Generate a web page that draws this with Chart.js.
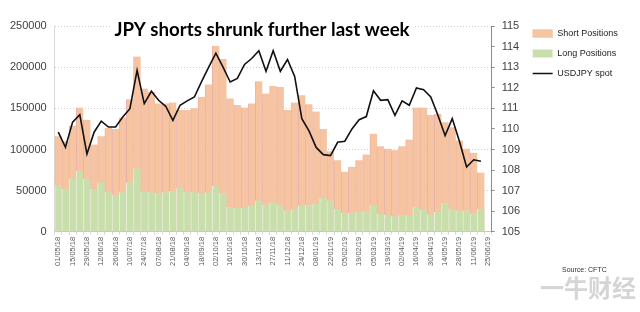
<!DOCTYPE html>
<html>
<head>
<meta charset="utf-8">
<script src="https://cdn.jsdelivr.net/npm/chart.js@4.4.1/dist/chart.umd.min.js"></script>
<style>
  html, body { margin: 0; padding: 0; background: #fff; }
  #wrap { position: relative; width: 640px; height: 312px; }
</style>
</head>
<body>
<div id="wrap"><canvas id="cotChart"></canvas></div>
<script>
// weekly CFTC report dates (only every other one is labelled on the axis)
const weeks = [
    '01/05/18', '08/05/18', '15/05/18', '22/05/18', '29/05/18', '05/06/18', '12/06/18', '19/06/18',
    '26/06/18', '03/07/18', '10/07/18', '17/07/18', '24/07/18', '31/07/18', '07/08/18', '14/08/18',
    '21/08/18', '28/08/18', '04/09/18', '11/09/18', '18/09/18', '25/09/18', '02/10/18', '09/10/18',
    '16/10/18', '23/10/18', '30/10/18', '06/11/18', '13/11/18', '20/11/18', '27/11/18', '04/12/18',
    '11/12/18', '18/12/18', '24/12/18', '31/12/18', '08/01/19', '15/01/19', '22/01/19', '29/01/19',
    '05/02/19', '12/02/19', '19/02/19', '26/02/19', '05/03/19', '12/03/19', '19/03/19', '26/03/19',
    '02/04/19', '09/04/19', '16/04/19', '23/04/19', '30/04/19', '07/05/19', '14/05/19', '21/05/19',
    '28/05/19', '04/06/19', '11/06/19', '18/06/19', '25/06/19'
];

const shortPositions = [
    116000, 110000, 129000, 151000, 136000, 106000, 116000, 126000, 125000, 139000,
    161000, 213000, 174000, 170000, 156000, 156000, 157000, 148000, 148000, 150000,
    164000, 179000, 226000, 210000, 162000, 154000, 151000, 156000, 183000, 168000,
    177000, 176000, 148000, 157000, 166000, 155000, 146000, 125000, 98000, 87000,
    73000, 79000, 87000, 94000, 119000, 104000, 101000, 99000, 104000, 112000,
    151000, 151000, 142000, 143000, 133000, 127000, 111000, 101000, 96000, 72000
];

const longPositions = [
    57000, 52000, 65000, 74000, 64000, 52000, 60000, 48000, 45000, 49000,
    60000, 77000, 49000, 48000, 47000, 48000, 50000, 53000, 48000, 48000,
    47000, 48000, 56000, 47000, 30000, 29000, 29000, 32000, 38000, 33000,
    36000, 33000, 26000, 28000, 32000, 33000, 34000, 41000, 38000, 28000,
    23000, 23000, 24000, 25000, 33000, 22000, 21000, 19000, 20000, 20000,
    30000, 27000, 21000, 24000, 35000, 28000, 26000, 26000, 22000, 28000
];

const usdjpySpot = [
    109.84, 109.11, 110.33, 110.69, 108.78, 109.84, 110.38, 110.09, 110.09, 110.58,
    110.98, 112.85, 111.23, 111.83, 111.39, 111.10, 110.41, 111.15, 111.36, 111.55,
    112.30, 113.00, 113.68, 113.00, 112.28, 112.45, 113.13, 113.42, 113.80, 112.80,
    113.80, 112.80, 113.37, 112.55, 110.50, 109.90, 109.10, 108.75, 108.70, 109.35,
    109.40, 110.00, 110.45, 110.60, 111.85, 111.39, 111.42, 110.66, 111.36, 111.15,
    111.99, 111.90, 111.55, 110.66, 109.68, 110.50, 109.40, 108.15, 108.50, 108.43
];

const chartTitle = 'JPY shorts shrunk further last week';
const sourceNote = 'Source: CFTC';
const watermark = '一牛财经';

Chart.defaults.font.family = '"Liberation Sans", Arial, sans-serif';
Chart.defaults.color = '#404040';

// title, source and watermark sit on top of the plot
const chartDecor = {
    id: 'chartDecor',
    beforeDraw(chart) {
        // pull the legend up/left so it lines up with the top gridline
        chart.legend.top = chart.chartArea.top - 8;
        chart.legend.left = chart.chartArea.right + 30;
    },
    afterDraw(chart) {
        const ctx = chart.ctx;
        ctx.save();
        ctx.font = 'bold 18.7px Lato, "Liberation Sans", sans-serif';
        const w = ctx.measureText(chartTitle).width;
        ctx.fillStyle = '#ffffff';
        ctx.fillRect(262 - w / 2 - 4, 19, w + 8, 22);
        ctx.fillStyle = '#000000';
        ctx.textAlign = 'center';
        ctx.textBaseline = 'alphabetic';
        ctx.fillText(chartTitle, 262, 36);

        ctx.font = 'bold 24px "Noto Sans CJK SC", sans-serif';
        ctx.fillStyle = 'rgba(150, 150, 150, 0.4)';
        ctx.textAlign = 'left';
        ctx.fillText(watermark, 540, 297);

        ctx.font = '7px "Liberation Sans", sans-serif';
        ctx.fillStyle = '#333333';
        ctx.fillText(sourceNote, 562, 272);
        ctx.restore();
    }
};

const cotConfig = {
    type: 'bar',
    data: {
        labels: weeks,
        datasets: [{
            label: 'Short Positions',
            data: shortPositions,
            backgroundColor: 'rgb(247, 196, 162)',
            borderColor: 'rgba(222, 150, 140, 0.7)',
            borderWidth: {left: 1, right: 0, top: 0, bottom: 0},
            borderSkipped: false,
            barPercentage: 1,
            categoryPercentage: 1,
            pointStyle: 'rect',
            yAxisID: 'y',
            order: 2
        }, {
            label: 'Long Positions',
            data: longPositions,
            backgroundColor: 'rgb(200, 223, 172)',
            borderColor: 'rgba(235, 242, 225, 0.9)',
            borderWidth: {left: 1, right: 0, top: 0, bottom: 0},
            borderSkipped: false,
            barPercentage: 1,
            categoryPercentage: 1,
            pointStyle: 'rect',
            yAxisID: 'y',
            order: 1
        }, {
            type: 'line',
            label: 'USDJPY spot',
            data: usdjpySpot,
            borderColor: '#111111',
            backgroundColor: '#111111',
            borderWidth: 1.6,
            pointRadius: 0,
            pointStyle: 'line',
            tension: 0,
            yAxisID: 'y1',
            order: 0
        }]
    },
    options: {
        responsive: true,
        maintainAspectRatio: false,
        animation: false,
        layout: {
            padding: {top: 26, left: 2, right: 8, bottom: 44}
        },
        plugins: {
            legend: {
                position: 'right',
                align: 'start',
                reverse: true,
                labels: {
                    usePointStyle: true,
                    pointStyleWidth: 20,
                    boxHeight: 8,
                    padding: 11,
                    color: '#222222',
                    font: {size: 9}
                }
            },
            title: {display: false},
            tooltip: {enabled: false}
        },
        scales: {
            x: {
                stacked: true,
                offset: true,
                grid: {
                    display: true,
                    drawOnChartArea: false,
                    drawTicks: true,
                    tickLength: 3,
                    color: '#d9d9d9'
                },
                border: {color: '#c8c8c8'},
                ticks: {
                    autoSkip: false,
                    maxRotation: 90,
                    minRotation: 90,
                    padding: 2,
                    color: '#595959',
                    font: {size: 7.5},
                    callback: function (value, index) {
                        return index % 2 === 0 ? this.getLabelForValue(value) : '';
                    }
                }
            },
            y: {
                stacked: false,
                position: 'left',
                min: 0,
                max: 250000,
                ticks: {
                    stepSize: 50000,
                    padding: 8,
                    color: '#404040',
                    font: {size: 11},
                    callback: (value) => String(value)
                },
                grid: {
                    color: '#cfcfcf',
                    drawTicks: false
                },
                border: {
                    color: '#d9d9d9',
                    dash: [1, 2]
                }
            },
            y1: {
                position: 'right',
                min: 105,
                max: 115,
                ticks: {
                    stepSize: 1,
                    padding: 7,
                    color: '#404040',
                    font: {size: 11}
                },
                grid: {
                    drawOnChartArea: false,
                    tickLength: 3,
                    color: '#8c8c8c'
                },
                border: {color: '#8c8c8c'}
            }
        }
    },
    plugins: [chartDecor]
};

const cotChart = new Chart(
    document.getElementById('cotChart'),
    cotConfig
);
</script>
</body>
</html>
